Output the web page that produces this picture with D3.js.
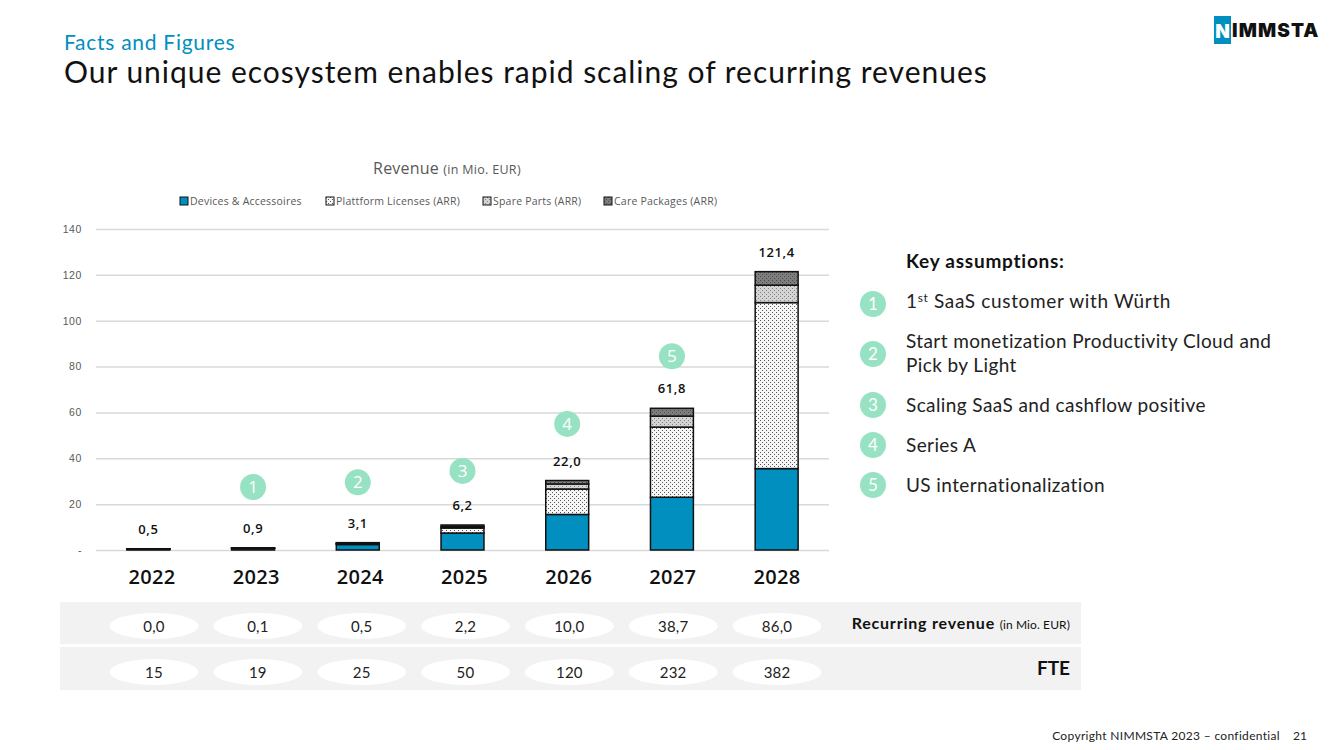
<!DOCTYPE html>
<html>
<head>
<meta charset="utf-8">
<script src="https://cdn.jsdelivr.net/npm/d3@7"></script>
<style>
html, body { margin: 0; padding: 0; background: #fff; }
svg { display: block; }
.slide { font-family: Lato, sans-serif; }
.chart { font-family: "Open Sans", sans-serif; }
.yaxis text { font-size: 10.5px; fill: #595959; letter-spacing: .6px; }
.yaxis path { display: none; }
.yaxis line { stroke: #d9d9d9; stroke-width: 1.5; }
</style>
</head>
<body>
<svg id="chart" width="1333" height="750"></svg>
<script>
// values
var years = ["2022", "2023", "2024", "2025", "2026", "2027", "2028"];
var devices = [0.4, 0.7, 2.4, 7.4, 15.5, 23.0, 35.5];
var platform = [0.05, 0.1, 0.3, 2.2, 11.1, 30.6, 72.4];
var spare = [0.05, 0.05, 0.2, 0.6, 2.2, 4.8, 7.6];
var care = [0.05, 0.1, 0.3, 0.7, 1.5, 3.4, 5.9];
var totalLabels = ["0,5", "0,9", "3,1", "6,2", "22,0", "61,8", "121,4"];
var recurring = ["0,0", "0,1", "0,5", "2,2", "10,0", "38,7", "86,0"];
var fte = ["15", "19", "25", "50", "120", "232", "382"];
var yTicks = [0, 20, 40, 60, 80, 100, 120, 140];

var seriesKeys = ["devices", "platform", "spare", "care"];
var seriesNames = ["Devices & Accessoires", "Plattform Licenses (ARR)", "Spare Parts (ARR)", "Care Packages (ARR)"];
var assumptions = [
	["1st SaaS customer with Würth"],
	["Start monetization Productivity Cloud and", "Pick by Light"],
	["Scaling SaaS and cashflow positive"],
	["Series A"],
	["US internationalization"]
];
// which year each numbered badge sits over, and at which level of the value axis
var badgeYears = ["2023", "2024", "2025", "2026", "2027"];
var badgeLevels = [27.5, 29.5, 34.5, 55, 84.5];

var svg = d3.select("#chart");
var defs = svg.append("defs");

function dots(id, bg, dot, size, s) {
	var p = defs.append("pattern").attr("id", id)
		.attr("width", size).attr("height", size)
		.attr("patternUnits", "userSpaceOnUse");
	p.append("rect").attr("width", size).attr("height", size).attr("fill", bg);
	p.append("rect").attr("x", 0).attr("y", 0).attr("width", s).attr("height", s).attr("fill", dot);
	p.append("rect").attr("x", size / 2).attr("y", size / 2).attr("width", s).attr("height", s).attr("fill", dot);
}
dots("pPlatform", "#f6f6f6", "#555555", 4, 1);
dots("pSpare", "#d4d4d4", "#808080", 4, 1);
dots("pCare", "#7d7d7d", "#4a4a4a", 4, 1);
var fills = { devices: "#008fbe", platform: "url(#pPlatform)", spare: "url(#pSpare)", care: "url(#pCare)" };

// header
var slide = svg.append("g").attr("class", "slide");
slide.append("text").attr("x", 64).attr("y", 50)
	.attr("font-size", 21).attr("letter-spacing", 0.72).attr("fill", "#008fbe").text("Facts and Figures");
slide.append("text").attr("x", 64).attr("y", 83)
	.attr("font-size", 30).attr("letter-spacing", 0.98).attr("fill", "#111").text("Our unique ecosystem enables rapid scaling of recurring revenues");

// logo
slide.append("rect").attr("x", 1214).attr("y", 16).attr("width", 17).attr("height", 28).attr("fill", "#008fbe");
slide.append("text").attr("x", 1222.5).attr("y", 37.5).attr("text-anchor", "middle")
	.attr("font-family", "Inter").attr("font-size", 19).attr("font-weight", 900).attr("fill", "#fff").text("N");
slide.append("text").attr("x", 1232).attr("y", 37)
	.attr("font-family", "Inter").attr("font-size", 19).attr("font-weight", 900).attr("letter-spacing", 1.1).attr("fill", "#111").text("IMMSTA");

// footer
slide.append("text").attr("x", 1280).attr("y", 740).attr("text-anchor", "end")
	.attr("font-size", 12).attr("letter-spacing", 0.32).attr("fill", "#222").text("Copyright NIMMSTA 2023 – confidential");
slide.append("text").attr("x", 1307).attr("y", 740).attr("text-anchor", "end")
	.attr("font-size", 12).attr("fill", "#222").text("21");

// chart
var x = d3.scaleBand().domain(years).range([96, 829]).paddingInner(0.59).paddingOuter(0.295);
var y = d3.scaleLinear().domain([0, 140]).range([550, 229]);
// table ellipses and year labels run on a slightly tighter step than the bars
var xRow = d3.scalePoint().domain(years).range([154, 777]);
var xYear = d3.scalePoint().domain(years).range([152, 777]);
var chart = svg.append("g").attr("class", "chart");

chart.append("text").attr("x", 447).attr("y", 174).attr("text-anchor", "middle")
	.attr("fill", "#595959").attr("font-size", 16).attr("letter-spacing", 0.2).text("Revenue ")
	.append("tspan").attr("font-size", 12.5).attr("letter-spacing", 0.3).text("(in Mio. EUR)");

var legendX = d3.scaleOrdinal().domain(seriesKeys).range([180, 326, 483, 604]);
var legend = chart.append("g").selectAll("g").data(seriesKeys).join("g")
	.attr("transform", function(d) { return "translate(" + legendX(d) + ",197)"; });
legend.append("rect").attr("width", 8).attr("height", 8)
	.attr("fill", function(d) { return fills[d]; }).attr("stroke", "#111").attr("stroke-width", 1);
legend.append("text").attr("x", 10).attr("y", 8)
	.attr("font-size", 10.5).attr("letter-spacing", 0.22).attr("fill", "#595959")
	.text(function(d, i) { return seriesNames[i]; });

chart.append("g").attr("class", "yaxis").attr("transform", "translate(96,0)")
	.call(d3.axisLeft(y).tickValues(yTicks).tickSize(-733).tickPadding(14)
		.tickFormat(function(d) { return d === 0 ? "-" : d; }));

var rows = years.map(function(yr, i) {
	return { year: yr, devices: devices[i], platform: platform[i], spare: spare[i], care: care[i] };
});
var stacked = d3.stack().keys(seriesKeys)(rows);

chart.append("g").selectAll("g").data(stacked).join("g")
	.attr("fill", function(s) { return fills[s.key]; })
	.selectAll("rect").data(function(s) { return s; }).join("rect")
	.attr("x", function(d) { return x(d.data.year); })
	.attr("width", x.bandwidth())
	.attr("y", function(d) { return y(d[1]); })
	.attr("height", function(d) { return y(d[0]) - y(d[1]); })
	.attr("stroke", "#111").attr("stroke-width", 1.5);

var topLayer = stacked[stacked.length - 1];
chart.append("g").selectAll("text").data(topLayer).join("text")
	.attr("x", function(d) { return x(d.data.year) + x.bandwidth() / 2; })
	.attr("y", function(d) { return y(d[1]) - 15; })
	.attr("text-anchor", "middle").attr("font-size", 13).attr("font-weight", 600)
	.attr("letter-spacing", 0.6).attr("fill", "#111")
	.text(function(d, i) { return totalLabels[i]; });

chart.append("g").selectAll("text").data(years).join("text")
	.attr("x", function(d) { return xYear(d); })
	.attr("y", 584).attr("text-anchor", "middle")
	.attr("font-size", 20).attr("font-weight", 600).attr("letter-spacing", 0.3).attr("fill", "#111")
	.text(function(d) { return d; });

// numbered badges over the bars
var badges = chart.append("g").selectAll("g").data(badgeYears).join("g")
	.attr("transform", function(d, i) {
		return "translate(" + (x(d) + x.bandwidth() / 2) + "," + y(badgeLevels[i]) + ")";
	});
badges.append("circle").attr("r", 13).attr("fill", "#98e2c4");
badges.append("text").attr("y", 6).attr("text-anchor", "middle")
	.attr("font-size", 17).attr("fill", "#fff")
	.text(function(d, i) { return i + 1; });

// table below the chart
var table = svg.append("g").attr("class", "slide");
var tableRows = [
	{ top: 602, h: 42, cy: 626, vals: recurring },
	{ top: 647, h: 43, cy: 672, vals: fte }
];
tableRows.forEach(function(r) {
	table.append("rect").attr("x", 60).attr("y", r.top).attr("width", 1021).attr("height", r.h).attr("fill", "#f2f2f2");
	var cell = table.append("g").selectAll("g").data(r.vals).join("g")
		.attr("transform", function(d, i) { return "translate(" + xRow(years[i]) + "," + r.cy + ")"; });
	cell.append("ellipse").attr("rx", 44.5).attr("ry", 13).attr("fill", "#fff");
	cell.append("text").attr("y", 5.5).attr("text-anchor", "middle")
		.attr("font-size", 15).attr("letter-spacing", 0.2).attr("fill", "#222").text(function(d) { return d; });
});
var recLabel = table.append("text").attr("x", 1070).attr("y", 629).attr("text-anchor", "end")
	.attr("font-size", 16).attr("font-weight", 700).attr("letter-spacing", 0.8).attr("fill", "#111").text("Recurring revenue ");
recLabel.append("tspan").attr("font-size", 12).attr("font-weight", 400).attr("letter-spacing", 0.1).text(" (in Mio. EUR)");
table.append("text").attr("x", 1070).attr("y", 675).attr("text-anchor", "end")
	.attr("font-size", 19).attr("font-weight", 700).attr("fill", "#111").text("FTE");

// key assumptions
var keyBox = svg.append("g").attr("class", "slide");
keyBox.append("text").attr("x", 906).attr("y", 268)
	.attr("font-size", 19).attr("font-weight", 700).attr("letter-spacing", 0.75).attr("fill", "#111").text("Key assumptions:");
var keyY = [308, 348, 412, 452, 492];
var badgeY = [304, 354, 405, 445, 485];
assumptions.forEach(function(lines, i) {
	keyBox.append("circle").attr("cx", 873).attr("cy", badgeY[i]).attr("r", 13).attr("fill", "#98e2c4");
	keyBox.append("text").attr("x", 873).attr("y", badgeY[i] + 6).attr("text-anchor", "middle")
		.attr("font-size", 17).attr("fill", "#fff").text(i + 1);
	lines.forEach(function(line, j) {
		var t = keyBox.append("text").attr("x", 906).attr("y", keyY[i] + j * 24)
			.attr("font-size", 19).attr("letter-spacing", i === 0 ? 0.65 : 0.4).attr("fill", "#222");
		if (i === 0) {
			t.text("1");
			t.append("tspan").attr("font-size", 12).attr("dy", -6).text("st");
			t.append("tspan").attr("dy", 6).text(line.slice(3));
		} else {
			t.text(line);
		}
	});
});
</script>
</body>
</html>
